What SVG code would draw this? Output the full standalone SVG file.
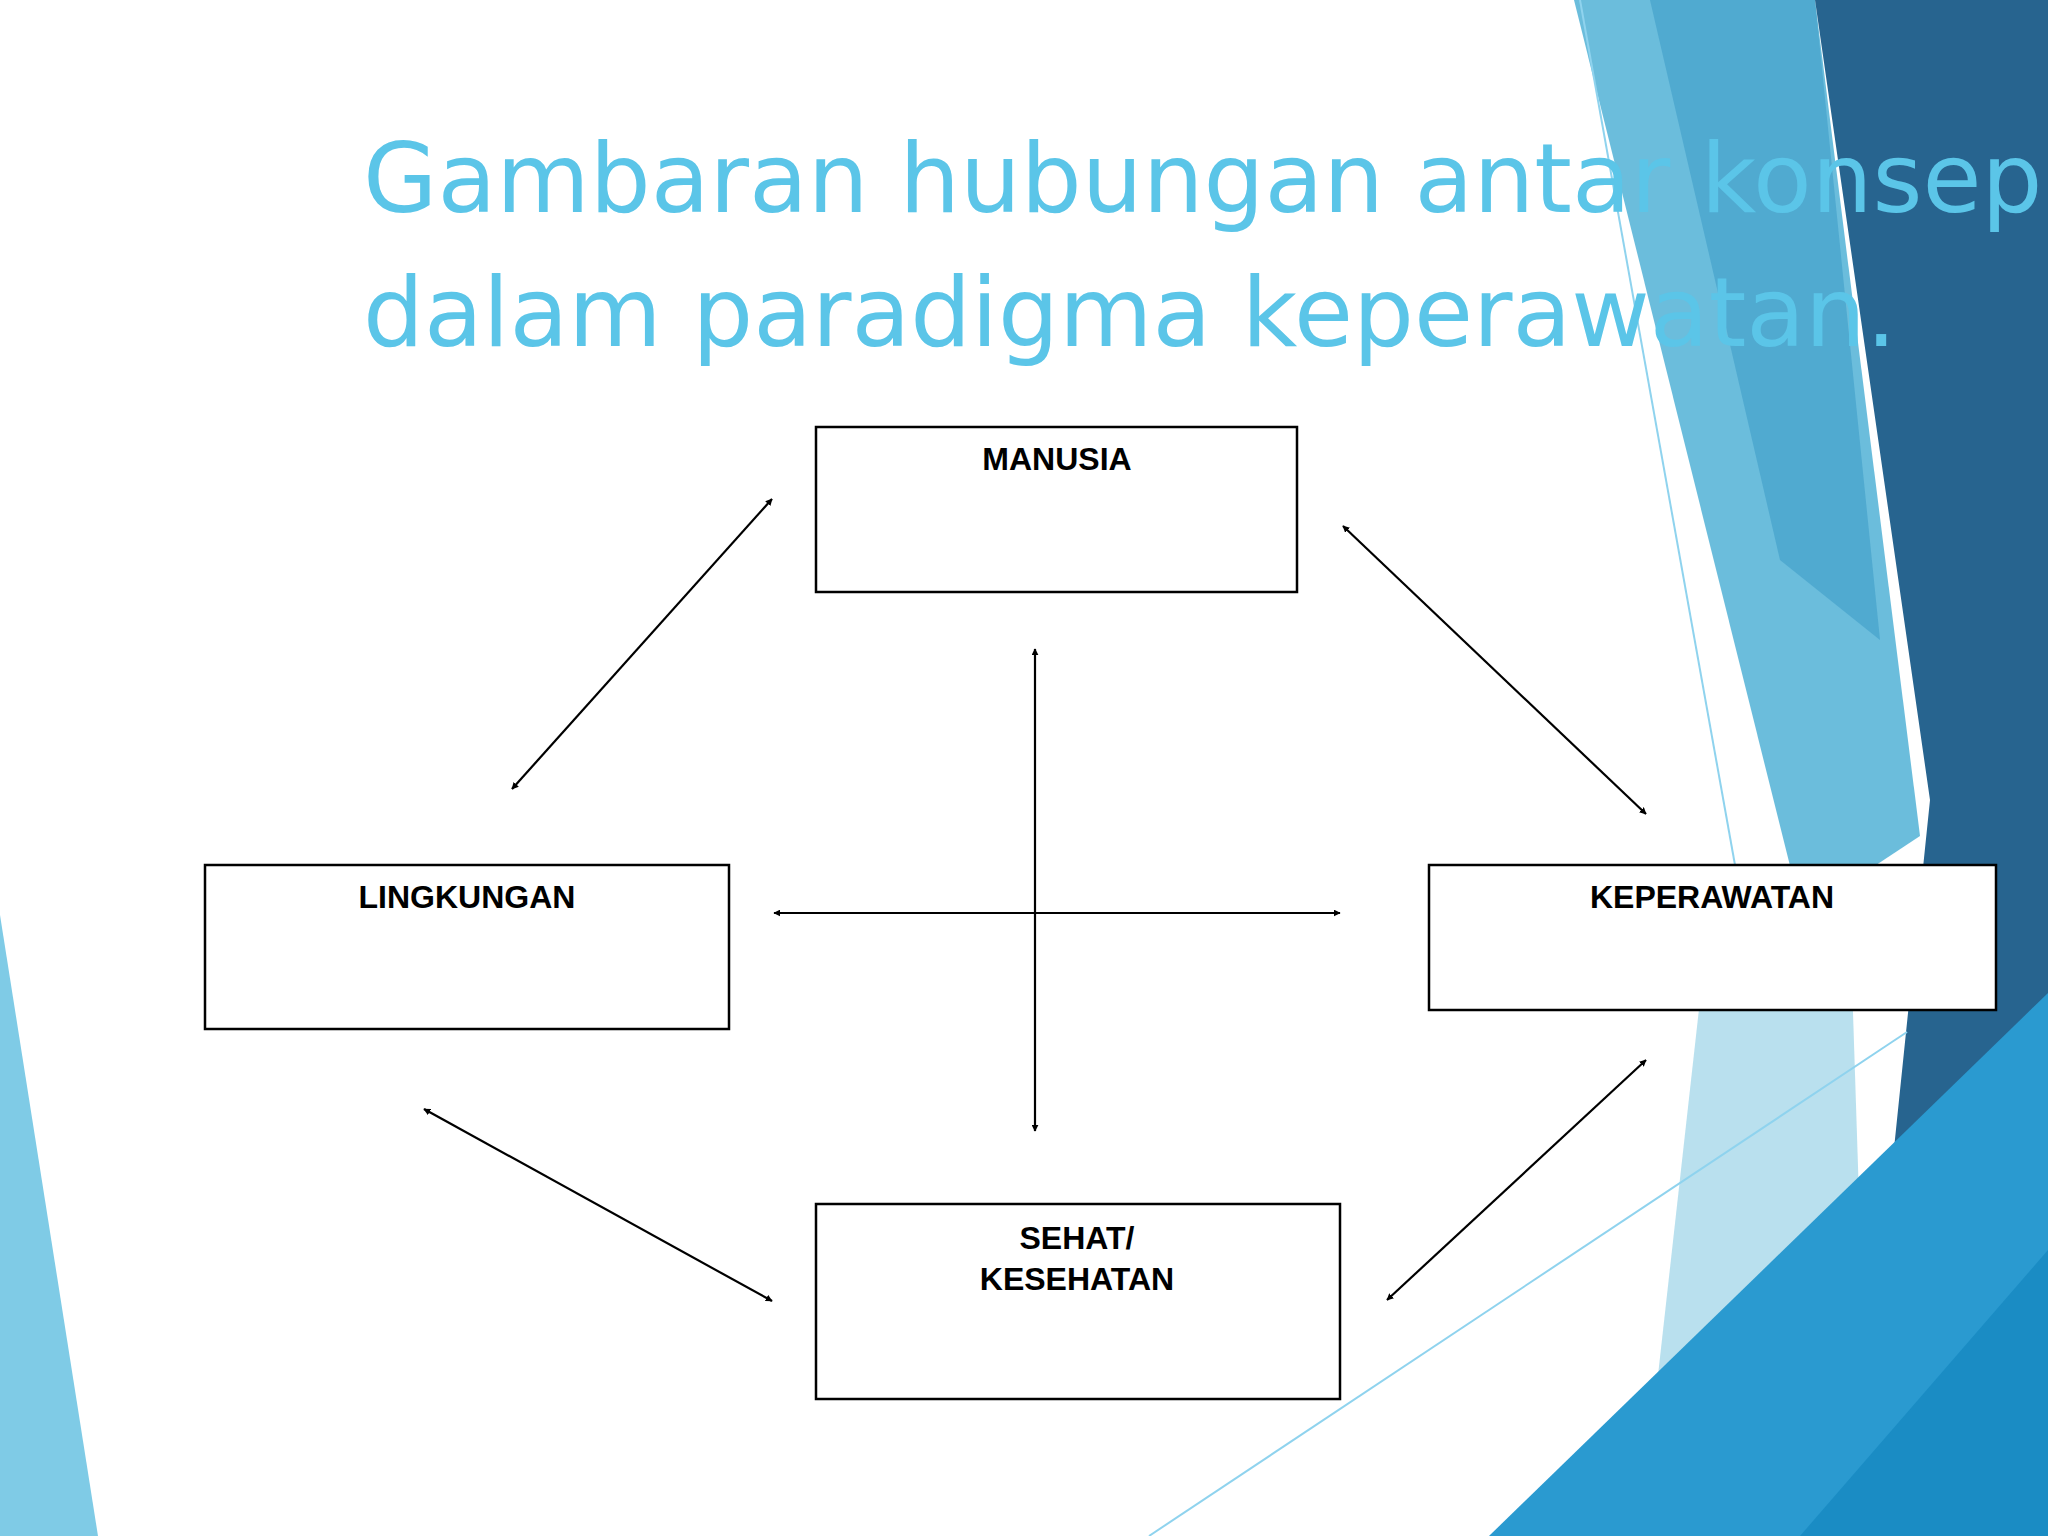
<svg xmlns="http://www.w3.org/2000/svg" width="2048" height="1536" viewBox="0 0 2048 1536">
<style>
.box{fill:#fff;stroke:#000;stroke-width:2.5}
.lbl{font-family:"Liberation Sans",Arial,sans-serif;font-weight:bold;font-size:32px;text-anchor:middle;fill:#000}
.title{font-family:"DejaVu Sans","Open Sans",sans-serif;font-size:96px;fill:#5BC5E8}
.c line{stroke:#000;stroke-width:2.2;marker-start:url(#a);marker-end:url(#a)}
</style>
<defs><marker id="a" viewBox="0 0 10 10" refX="9" refY="5" markerWidth="7" markerHeight="7" orient="auto-start-reverse" markerUnits="userSpaceOnUse" ><path d="M0,0L10,5L0,10z" fill="#000" transform="scale(1)"/></marker></defs>
<rect width="2048" height="1536" fill="#fff"/>
<g id="bg">
<polygon points="1574,0 1815,0 1920,836 1802,914" fill="#5BB6D8" opacity="0.9"/>
<polygon points="1650,0 1815,0 1880,640 1780,560" fill="#3E9CC8" opacity="0.6"/>
<polygon points="1815,0 2048,0 2048,1536 1854,1536 1930,800" fill="#27648F"/>
<polygon points="1700,1000 1850,920 1870,1536 1640,1536" fill="#A8D8EA" opacity="0.8"/>
<polygon points="1489,1536 2048,993 2048,1536" fill="#2A9AD0"/>
<polygon points="1800,1536 2048,1250 2048,1536" fill="#1A8CC4"/>
<polygon points="0,915 0,1536 98,1536" fill="#7FCBE6"/>
<line x1="1580" y1="0" x2="1735" y2="865" stroke="#8FD3EE" stroke-width="2"/>
<line x1="1149" y1="1536" x2="1907" y2="1032" stroke="#8FD3EE" stroke-width="2"/>
</g>
<text class="title" x="363" y="212">Gambaran hubungan antar konsep</text>
<text class="title" x="363" y="346">dalam paradigma keperawatan.</text>
<g id="manusia"><rect class="box" x="816" y="427" width="481" height="165"/><text class="lbl" x="1057" y="470">MANUSIA</text></g>
<g id="lingkungan"><rect class="box" x="205" y="865" width="524" height="164"/><text class="lbl" x="467" y="908">LINGKUNGAN</text></g>
<g id="keperawatan"><rect class="box" x="1429" y="865" width="567" height="145"/><text class="lbl" x="1712" y="908">KEPERAWATAN</text></g>
<g id="sehat"><rect class="box" x="816" y="1204" width="524" height="195"/><text class="lbl" x="1077" y="1249">SEHAT/</text><text class="lbl" x="1077" y="1290">KESEHATAN</text></g>
<g class="c" id="connectors">
<line x1="772" y1="499" x2="512" y2="789"/>
<line x1="1343" y1="526" x2="1646" y2="814"/>
<line x1="1035" y1="649" x2="1035" y2="1131"/>
<line x1="774" y1="913" x2="1340" y2="913"/>
<line x1="424" y1="1109" x2="772" y2="1301"/>
<line x1="1646" y1="1060" x2="1387" y2="1300"/>
</g>
</svg>
